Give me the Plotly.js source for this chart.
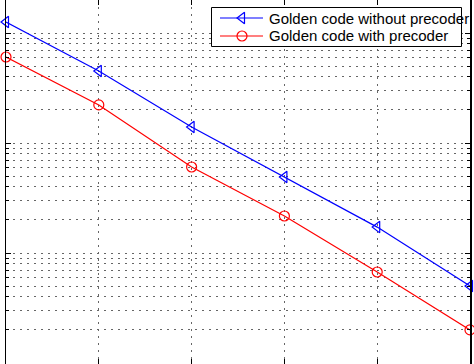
<!DOCTYPE html>
<html>
<head>
<meta charset="utf-8">
<script src="https://cdn.plot.ly/plotly-3.0.1.min.js"></script>
<style>html,body{margin:0;padding:0;background:#fff;overflow:hidden}#chart{width:474px;height:364px}</style>
</head>
<body>
<div id="chart"></div>
<script>
// SNR points (dB)
const snr = [0, 5, 10, 15, 20, 25];
// BER without precoder
const berNoPrecoder = [0.126, 0.0452, 0.0140, 0.00491, 0.00172, 0.000501];
// BER with precoder
const berPrecoder = [0.0605, 0.0222, 0.00605, 0.00217, 0.000672, 0.000200];
const seriesNames = ["Golden code without precoder", "Golden code with precoder"];
const seriesColors = ['#0000ff', '#ff0000'];
const seriesSymbols = ['triangle-left-open', 'circle-open'];

// legend geometry (page pixel coordinates)
const legBox = {x0: 211.5, x1: 461.5, y0: 7.5, y1: 46.5};
const legRows = [18, 36];
const legLineX = [220, 263];
const legMarkX = 242;
const legTextX = 267;

// plot area in pixels
const PL = 6, PR = 470, PT = 0, PB = 364;
const fx = px => (px - PL) / (PR - PL);
const fy = py => 1 - (py - PT) / (PB - PT);

const seriesY = [berNoPrecoder, berPrecoder];
const traces = [];
seriesY.forEach((ys, i) => {
  traces.push({
    x: snr, y: ys, name: seriesNames[i], type: 'scatter', mode: 'lines+markers',
    line: {color: seriesColors[i], width: 1.2},
    marker: {symbol: seriesSymbols[i], size: 10, color: seriesColors[i], line: {width: 1.2, color: seriesColors[i]}},
    cliponaxis: false, showlegend: false
  });
});
// legend box on an overlay pixel axis
traces.push({
  x: [legBox.x0, legBox.x1, legBox.x1, legBox.x0, legBox.x0],
  y: [legBox.y0, legBox.y0, legBox.y1, legBox.y1, legBox.y0],
  xaxis: 'x2', yaxis: 'y2', type: 'scatter', mode: 'lines', fill: 'toself',
  fillcolor: '#fff', line: {color: '#000', width: 1}, showlegend: false, hoverinfo: 'skip', cliponaxis: false
});
// legend samples
seriesY.forEach((ys, i) => {
  traces.push({
    x: legLineX, y: [legRows[i], legRows[i]], xaxis: 'x2', yaxis: 'y2', type: 'scatter', mode: 'lines',
    line: {color: seriesColors[i], width: 1.2}, showlegend: false, hoverinfo: 'skip', cliponaxis: false
  });
  traces.push({
    x: [legMarkX], y: [legRows[i]], xaxis: 'x2', yaxis: 'y2', type: 'scatter', mode: 'markers',
    marker: {symbol: seriesSymbols[i], size: 10, color: seriesColors[i], line: {width: 1.2, color: seriesColors[i]}},
    showlegend: false, hoverinfo: 'skip', cliponaxis: false
  });
});

const gridDash = '1.5px,5.5px';
const layout = {
  width: 474, height: 364,
  margin: {l: 6, r: 4, t: 0, b: 0, pad: 0},
  paper_bgcolor: '#fff', plot_bgcolor: '#fff',
  font: {family: 'Liberation Sans, Arial, sans-serif', size: 15, color: '#000'},
  showlegend: false,
  xaxis: {
    type: 'linear', range: [0, 25], tickvals: snr, showticklabels: false,
    ticks: 'inside', ticklen: 5, tickcolor: '#000', mirror: 'ticks',
    showline: false, zeroline: false,
    showgrid: true, gridcolor: '#666', gridwidth: 1, griddash: gridDash
  },
  yaxis: {
    type: 'log', range: [-4.009, -0.7], dtick: 1, showticklabels: false,
    ticks: 'inside', ticklen: 5, tickcolor: '#000', mirror: 'ticks',
    showline: true, linecolor: '#000', linewidth: 1.5, zeroline: false,
    showgrid: true, gridcolor: '#666', gridwidth: 1, griddash: gridDash,
    minor: {dtick: 'D1', ticks: 'inside', ticklen: 3, tickcolor: '#000', showgrid: true, gridcolor: '#666', gridwidth: 1, griddash: gridDash}
  },
  xaxis2: {overlaying: 'x', range: [PL, PR], visible: false, fixedrange: true},
  yaxis2: {overlaying: 'y', range: [PB, PT], visible: false, fixedrange: true},
  annotations: seriesNames.map((n, i) => ({
    text: n, xref: 'paper', yref: 'paper', x: fx(legTextX), y: fy(legRows[i]),
    xanchor: 'left', yanchor: 'middle', showarrow: false,
    font: {family: 'Liberation Sans, Arial, sans-serif', size: 15, color: '#000'}
  }))
};

Plotly.newPlot('chart', traces, layout, {staticPlot: true, displayModeBar: false});
</script>
</body>
</html>
